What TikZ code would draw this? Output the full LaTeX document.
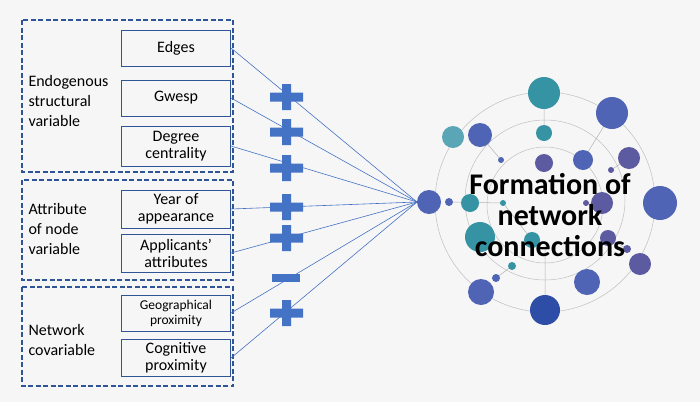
\documentclass[tikz,border=0pt]{standalone}
\usepackage{fontspec}
\setmainfont{Carlito}
\begin{document}
\begin{tikzpicture}[x=1pt,y=-1pt,
  grp/.style={draw=boxblue,dash pattern=on 5pt off 2.5pt,line width=1.3pt},
  itembox/.style={draw=boxblue,line width=1pt,minimum width=109pt,align=center,font=\fontsize{16}{17}\selectfont,inner sep=1pt},
  conn/.style={draw=lineblue,line width=0.6pt},
  ring/.style={draw=gray!50,line width=0.5pt},
  lk/.style={draw=gray!60,line width=0.5pt},
  grplabel/.style={anchor=west,align=left,font=\fontsize{16}{20}\selectfont}]
\definecolor{boxblue}{HTML}{2F5597}
\definecolor{lineblue}{HTML}{4472C4}
\definecolor{bgc}{HTML}{F6F6F6}
\definecolor{nb}{HTML}{4F64B4}
\definecolor{nt}{HTML}{3593A4}
\definecolor{np}{HTML}{5C5AA0}
\definecolor{nlt}{HTML}{5AA6B6}
\definecolor{nd}{HTML}{2E4DA6}
\fill[bgc] (0,0) rectangle (700,402);
\useasboundingbox (0,0) rectangle (700,402);
% rings
\draw[ring] (545,202) circle (110);
\draw[ring] (545,200) circle (80);
\draw[ring] (545,205) circle (58);
% links
\draw[lk] (544,93)--(544,133) (480,135)--(501,160) (612,113)--(583,160) (629,158)--(611,170)
 (449,202)--(503,203) (503,203)--(532,240) (586,203)--(602,203) (545,310)--(545,245) (608,238)--(627,249) (496,278)--(512,266);
% groups
\draw[grp] (22,20) rectangle (233,172);
\draw[grp] (22,180) rectangle (233,280);
\draw[grp] (22,287) rectangle (233,386);
\node[grplabel] (g1) at (25,101) {Endogenous\\structural\\variable};
\node[grplabel] (g2) at (25,229) {Attribute\\of node\\variable};
\node[grplabel] (g3) at (25,340) {Network\\covariable};
% items
\node[itembox,minimum height=36pt] (i1) at (176,48) {Edges};
\node[itembox,minimum height=36pt] (i2) at (176,98) {Gwesp};
\node[itembox,minimum height=40pt] (i3) at (176,146) {Degree\\centrality};
\node[itembox,minimum height=38pt] (i4) at (176,209) {Year of\\appearance};
\node[itembox,minimum height=38pt] (i5) at (176,253) {Applicants'\\attributes};
\node[itembox,minimum height=36pt,font=\fontsize{13.5}{15}\selectfont] (i6) at (176,313) {Geographical\\proximity};
\node[itembox,minimum height=37pt] (i7) at (176,358) {Cognitive\\proximity};
% hub
\node[circle,fill=nb,minimum size=24pt,inner sep=0] (hub) at (429,202) {};
\coordinate (tip) at (417,202);
\foreach \i in {1,...,7} \draw[conn] (i\i.east) -- (tip);
% plus signs
\foreach \y in {97,132,168,207,238,313}
  \fill[lineblue] (270,\y-4.5) rectangle (303,\y+4.5) (282,\y-13) rectangle (291,\y+13);
\fill[lineblue] (272,274) rectangle (300,282);
% network nodes
\foreach \x/\y/\r/\c in {544/93/16/nt,453/137/11/nlt,480/135/12/nb,544/133/8/nt,612/113/16/nb,501/160/3/nb,
 544/163/9/np,583/160/10/nb,629/158/11/np,611/170/3/np,660/203/17/nb,449/202/4/nb,470/203/9/nt,503/203/3/nt,
 586/203/3/np,602/203/11/np,480/237/15/nt,532/240/8/nt,608/238/8/np,627/249/4/np,640/264/11/np,512/266/4/nt,
 496/278/4/nb,587/282/13/nb,481/292/13/nb,545/310/15/nd}
  \fill[\c] (\x,\y) circle (\r);
\node[font=\fontsize{30}{31}\selectfont\bfseries,align=center] (title) at (550,215) {Formation of\\network\\connections};
\end{tikzpicture}
\end{document}
